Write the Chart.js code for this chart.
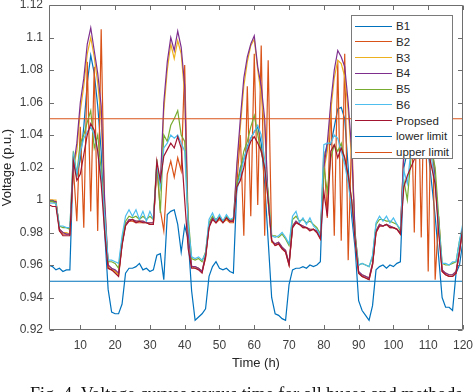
<!DOCTYPE html>
<html>
<head>
<meta charset="utf-8">
<script src="https://cdn.jsdelivr.net/npm/chart.js@4.4.1/dist/chart.umd.min.js"></script>
<style>
html,body{margin:0;padding:0;background:#fff;overflow:hidden;width:474px;height:392px;}
#wrap{position:relative;width:474px;height:392px;overflow:hidden;}
#c{position:absolute;left:0;top:0;}
#legend{position:absolute;left:351px;top:15px;width:100px;height:142px;border:1px solid #7a7a7a;background:#fff;font:11.5px "Liberation Sans",Arial,sans-serif;color:#262626;}
.ls{position:absolute;left:3px;width:37px;height:1px;}
.lt{position:absolute;left:44px;line-height:14px;white-space:nowrap;}
#caption{position:absolute;left:30px;top:385px;font:18px "Liberation Serif","Times New Roman",serif;line-height:18px;white-space:nowrap;color:#111;}
</style>
</head>
<body>
<div id="wrap">
<canvas id="c" width="474" height="392"></canvas>
<div id="legend"></div>
<div id="caption">Fig. 4. Voltage curves versus time for all buses and methods</div>
</div>
<script>
// ---- data ----
const hours = Array.from({length:120}, (_, i) => i + 1);
const xTicks = [10,20,30,40,50,60,70,80,90,100,110,120];
const yTicks = [0.92,0.94,0.96,0.98,1.00,1.02,1.04,1.06,1.08,1.10,1.12];
const seriesNames = ['B1','B2','B3','B4','B5','B6','Propsed','lower limit','upper limit'];
const lowerLimit = 0.95;
const upperLimit = 1.05;

const b1 = [
 0.960,0.959,0.957,0.958,0.956,0.957,0.957, 1.025,1.015,1.025,1.045,1.072,1.089,1.078,1.058,1.030,0.980, 0.945,0.931,0.930,0.930, 0.936,0.955,0.958,
 0.958,0.959,0.961,0.957,0.958,0.956,0.957, 0.966,0.967,0.951,0.991,0.993,0.994,0.985,0.968,0.984,0.976, 0.944,0.926,0.928,0.930,0.933, 0.953,0.959,
 0.962,0.958,0.957,0.958,0.956,0.955, 1.008,1.020,1.025,1.033,1.038,1.042,1.045,1.035,1.010,0.975,0.940, 0.930,0.929,0.927,0.926,0.948, 0.957,0.958,
 0.958,0.959,0.958,0.960,0.959,0.960,0.962, 1.025,1.035,1.034,1.045,1.056,1.057,1.050,1.020,0.990,0.970, 0.938,0.932,0.929,0.926,0.935, 0.957,0.959,
 0.960,0.958,0.960,0.959,0.961,0.962, 1.020,1.030,1.040,1.050,1.060,1.055,1.045,1.030,1.010,0.990,0.965, 0.940,0.934,0.934,0.932,0.955, 0.960,0.975
];
const b2 = [
 1.000,1.000,0.999,0.981,0.979,0.979,0.979, 1.020,0.987,1.045,0.983,1.085,0.993,1.082,0.981,1.105,0.990, 0.958,0.957,0.956,0.954, 0.973,0.985,0.987,
 0.987,0.986,0.986,0.986,0.986,0.985,0.985, 1.020,0.994,0.981,1.016,1.024,1.014,1.026,1.018,1.083,0.985, 0.959,0.958,0.958,0.956,0.964, 0.984,0.989,
 0.986,0.988,0.986,0.988,0.986,0.986, 1.010,1.040,0.978,1.070,0.990,1.090,0.997,1.095,0.978,1.086,0.975, 0.972,0.973,0.970,0.968,0.960, 0.983,0.986,
 0.985,0.983,0.983,0.981,0.982,0.980,0.976, 1.030,0.989,1.060,0.978,1.085,0.975,1.090,0.963,1.040,0.975, 0.955,0.953,0.952,0.951,0.960, 0.980,0.984,
 0.984,0.985,0.983,0.983,0.982,0.979, 1.030,1.050,1.070,0.980,1.085,0.977,1.090,0.956,1.080,0.951,0.990, 0.956,0.954,0.953,0.953,0.955, 0.968,0.984
];
const b3 = [
 1.000,1.000,1.000,0.982,0.980,0.980,0.979, 1.020,1.030,1.055,1.070,1.090,1.100,1.088,1.072,1.050,0.998, 0.959,0.958,0.956,0.954, 0.973,0.985,0.988,
 0.988,0.987,0.987,0.987,0.986,0.986,0.986, 1.020,1.008,1.055,1.080,1.096,1.087,1.098,1.090,1.065,0.978, 0.959,0.959,0.958,0.956,0.966, 0.984,0.988,
 0.987,0.988,0.987,0.988,0.987,0.987, 1.020,1.045,1.070,1.085,1.095,1.099,1.080,1.065,1.045,0.998,0.974, 0.973,0.974,0.971,0.969,0.961, 0.984,0.987,
 0.985,0.984,0.983,0.982,0.982,0.981,0.977, 1.018,1.030,1.055,1.075,1.086,1.084,1.076,1.055,1.025,0.978, 0.955,0.954,0.953,0.952,0.961, 0.981,0.985,
 0.984,0.985,0.984,0.983,0.982,0.980, 1.028,1.045,1.065,1.080,1.090,1.085,1.075,1.060,1.035,1.010,0.983, 0.957,0.955,0.954,0.954,0.956, 0.969,0.984
];
const b4 = [
 0.999,0.999,0.999,0.982,0.980,0.979,0.979, 1.020,1.035,1.060,1.075,1.096,1.106,1.092,1.078,1.058,1.000, 0.960,0.958,0.957,0.955, 0.973,0.985,0.988,
 0.988,0.987,0.987,0.987,0.986,0.986,0.986, 1.022,1.010,1.060,1.085,1.100,1.092,1.104,1.094,1.070,0.980, 0.959,0.959,0.958,0.956,0.966, 0.984,0.989,
 0.987,0.989,0.987,0.989,0.987,0.987, 1.022,1.050,1.075,1.088,1.096,1.101,1.082,1.070,1.050,1.000,0.975, 0.973,0.974,0.971,0.969,0.961, 0.984,0.987,
 0.985,0.984,0.983,0.982,0.982,0.981,0.977, 1.020,1.035,1.060,1.080,1.092,1.088,1.082,1.060,1.030,0.980, 0.956,0.954,0.953,0.952,0.961, 0.981,0.985,
 0.984,0.985,0.984,0.983,0.982,0.980, 1.030,1.050,1.070,1.085,1.095,1.090,1.080,1.065,1.040,1.012,0.985, 0.957,0.955,0.954,0.954,0.956, 0.969,0.984
];
const b5 = [
 0.999,0.999,0.998,0.984,0.983,0.983,0.982, 1.030,1.016,1.035,1.040,1.048,1.055,1.032,1.040,1.018,0.990, 0.962,0.962,0.961,0.958, 0.976,0.987,0.990,
 0.989,0.990,0.988,0.990,0.988,0.990,0.988, 1.025,0.992,1.040,1.036,1.046,1.050,1.055,1.040,1.036,0.990, 0.964,0.963,0.964,0.962,0.968, 0.986,0.990,
 0.988,0.990,0.987,0.990,0.988,0.988, 1.010,1.018,1.030,1.036,1.045,1.052,1.040,1.030,1.020,1.005,0.978, 0.978,0.977,0.979,0.976,0.972, 0.988,0.990,
 0.987,0.988,0.986,0.987,0.985,0.983,0.979, 1.020,1.005,1.026,1.034,1.030,1.035,1.025,1.015,1.000,0.978, 0.960,0.961,0.960,0.959,0.965, 0.985,0.988,
 0.988,0.987,0.987,0.986,0.985,0.981, 1.012,1.000,1.025,1.035,1.045,1.048,1.050,1.040,1.030,1.020,0.990, 0.961,0.960,0.960,0.961,0.962, 0.975,0.984
];
const b6 = [
 0.998,0.998,0.998,0.984,0.984,0.983,0.983, 1.028,1.016,1.030,1.038,1.042,1.045,1.040,1.030,1.015,0.990, 0.963,0.963,0.962,0.961, 0.978,0.990,0.994,
 0.990,0.994,0.988,0.993,0.987,0.993,0.988, 1.022,1.008,1.032,1.035,1.040,1.038,1.040,1.035,1.030,0.985, 0.965,0.964,0.965,0.963,0.967, 0.988,0.992,
 0.987,0.991,0.987,0.991,0.988,0.989, 1.006,1.015,1.025,1.032,1.038,1.042,1.046,1.040,1.025,1.000,0.978, 0.977,0.978,0.980,0.977,0.973, 0.990,0.993,
 0.986,0.989,0.985,0.989,0.984,0.982,0.978, 1.034,1.035,1.035,1.040,1.038,1.030,1.022,1.010,0.995,0.975, 0.960,0.961,0.960,0.959,0.966, 0.986,0.990,
 0.987,0.990,0.986,0.989,0.985,0.982, 1.018,1.010,1.030,1.040,1.045,1.042,1.040,1.035,1.025,1.010,0.985, 0.961,0.961,0.960,0.962,0.962, 0.975,0.986
];
const proposed = [
 0.997,0.996,0.996,0.981,0.978,0.978,0.978, 1.024,1.012,1.016,1.028,1.040,1.047,1.043,1.030,1.010,0.980, 0.958,0.957,0.955,0.953, 0.972,0.984,0.987,
 0.988,0.986,0.987,0.986,0.986,0.985,0.985, 1.024,1.012,1.027,1.031,1.035,1.032,1.039,1.032,1.000,0.970, 0.958,0.958,0.957,0.955,0.965, 0.983,0.988,
 0.986,0.989,0.986,0.989,0.987,0.987, 1.008,1.012,1.020,1.030,1.036,1.039,1.035,1.030,1.020,1.000,0.975, 0.972,0.973,0.970,0.968,0.960, 0.983,0.986,
 0.985,0.983,0.983,0.981,0.982,0.980,0.976, 1.005,0.990,1.030,1.034,1.026,1.032,1.026,1.015,1.000,0.975, 0.955,0.953,0.952,0.951,0.960, 0.980,0.984,
 0.984,0.985,0.983,0.983,0.982,0.979, 1.008,1.015,1.020,1.025,1.032,1.038,1.035,1.030,1.020,1.010,0.980, 0.956,0.954,0.953,0.953,0.955, 0.968,0.984
];
const colors = ['#0072BD','#D95319','#EDB120','#7E2F8E','#77AC30','#4DBEEE','#A2142F','#0072BD','#D95319'];

// ---- chart ----
Chart.defaults.font.family = '"Liberation Sans", Arial, sans-serif';
Chart.defaults.color = '#404040';

const seriesData = [b1,b2,b3,b4,b5,b6,proposed,
  [{x:hours[0],y:lowerLimit},{x:hours[hours.length-1],y:lowerLimit}],
  [{x:hours[0],y:upperLimit},{x:hours[hours.length-1],y:upperLimit}]];

const datasets = seriesNames.map((name, i) => ({
  label: name,
  data: seriesData[i],
  borderColor: colors[i],
  backgroundColor: colors[i],
  borderWidth: 1.2,
  pointRadius: 0,
  tension: 0,
  fill: false,
  order: seriesNames.length - 1 - i
}));

const frame = {
  id: 'frame',
  afterDatasetsDraw(chart) {
    const {ctx, chartArea: a, scales: {x, y}} = chart;
    const L = Math.round(a.left) + 0.5, R = Math.round(a.right) - 0.5;
    const T = Math.round(a.top) + 0.5, B = Math.round(a.bottom) - 0.5;
    ctx.save();
    ctx.strokeStyle = '#6e6e6e';
    ctx.lineWidth = 1;
    ctx.beginPath();
    ctx.rect(L, T, R - L, B - T);
    const tl = 4.5;
    xTicks.forEach(v => {
      const px = Math.round(x.getPixelForValue(v)) + 0.5;
      ctx.moveTo(px, B); ctx.lineTo(px, B - tl);
      ctx.moveTo(px, T); ctx.lineTo(px, T + tl);
    });
    yTicks.forEach(v => {
      const py = Math.round(y.getPixelForValue(v)) + 0.5;
      ctx.moveTo(L, py); ctx.lineTo(L + tl, py);
      ctx.moveTo(R, py); ctx.lineTo(R - tl, py);
    });
    ctx.stroke();
    ctx.restore();
  }
};

const chart = new Chart(document.getElementById('c'), {
  type: 'line',
  data: { labels: hours, datasets },
  options: {
    responsive: false,
    animation: false,
    events: [],
    layout: { padding: { left: 0, top: 5, right: 11, bottom: 21 } },
    plugins: { legend: { display: false }, tooltip: { enabled: false } },
    scales: {
      x: {
        type: 'linear', min: 1, max: 120,
        grid: { display: false, drawTicks: false },
        border: { display: false },
        afterBuildTicks: s => { s.ticks = xTicks.map(v => ({ value: v })); },
        afterFit: s => { s.height = 41; s.paddingLeft = 0; s.paddingRight = 0; },
        ticks: { font: { size: 12 }, padding: 8, maxRotation: 0, autoSkip: false, color: '#404040' },
        title: { display: true, text: 'Time (h)', font: { size: 13 }, color: '#262626', padding: { top: 0, bottom: 0 } }
      },
      y: {
        type: 'linear', min: 0.92, max: 1.12,
        grid: { display: false, drawTicks: false },
        border: { display: false },
        afterBuildTicks: s => { s.ticks = yTicks.map(v => ({ value: v })); },
        afterFit: s => { s.width = 49; s.paddingTop = 0; s.paddingBottom = 0; },
        ticks: { font: { size: 12 }, padding: 6, autoSkip: false, color: '#404040',
                 callback: v => String(+Number(v).toFixed(2)) },
        title: { display: true, text: 'Voltage (p.u.)', font: { size: 13 }, color: '#262626', padding: { top: 0, bottom: 0 } }
      }
    }
  },
  plugins: [frame]
});

// ---- legend built from the datasets ----
const leg = document.getElementById('legend');
datasets.forEach((d, i) => {
  const cy = 10 + i * 15.75;
  const s = document.createElement('div');
  s.className = 'ls';
  s.style.top = Math.round(cy - 0.5) + 'px';
  s.style.background = d.borderColor;
  leg.appendChild(s);
  const t = document.createElement('div');
  t.className = 'lt';
  t.style.top = (cy - 7) + 'px';
  t.textContent = d.label;
  leg.appendChild(t);
});
</script>
</body>
</html>
